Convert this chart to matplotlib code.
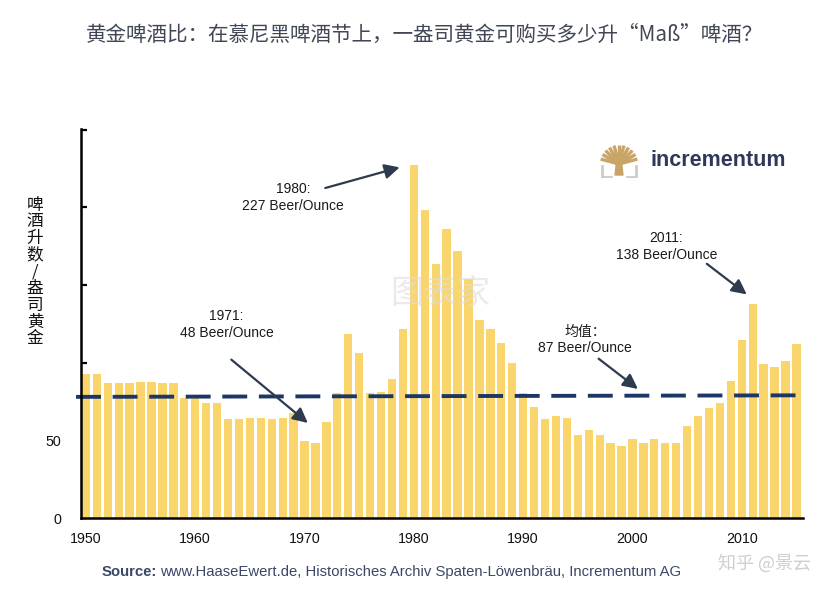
import matplotlib
matplotlib.use("Agg")
import matplotlib.pyplot as plt
from matplotlib.patches import Polygon
import numpy as np

years = list(range(1950, 2016))
beer_per_ounce = [
    92.5, 92.5, 86.7, 86.7, 86.7, 87.3, 87.3, 86.7, 86.7, 77.0,   # 1950-1959
    77.0, 74.2, 74.2, 63.5, 63.5, 64.5, 64.5, 64.0, 64.5, 67.4,   # 1960-1969
    49.5, 48.5, 61.8, 80.6, 118.8, 106.4, 80.2, 81.1, 89.7, 121.6,  # 1970-1979
    227.0, 198.6, 163.4, 185.8, 172.0, 153.6, 127.4, 121.6, 112.8, 99.5,  # 1980-1989
    80.2, 71.6, 63.7, 65.6, 64.1, 53.4, 56.6, 53.4, 48.5, 46.3,   # 1990-1999
    50.6, 48.5, 50.6, 48.5, 48.5, 59.2, 65.6, 70.8, 74.2, 88.2,   # 2000-2009
    114.5, 138.0, 99.1, 97.4, 101.0, 112.0,                       # 2010-2015
]
mean_line_x = [1949.1, 2015.6]
mean_line_y = [78.0, 79.0]

xtick_vals = [1950, 1960, 1970, 1980, 1990, 2000, 2010]
ytick_vals = [0, 50, 100, 150, 200, 250]
ytick_labels = ["0", "50", "", "", "", ""]

title = "黄金啤酒比：在慕尼黑啤酒节上，一盎司黄金可购买多少升“Maß”啤酒？"
ylabel = "啤酒升数/盎司黄金"

annotations = [
    # text, text position (x, y), arrow tail, arrow head
    ("1980:\n227 Beer/Ounce", (1968.95, 206.5), (1971.9, 212.5), (1978.7, 225.8)),
    ("1971:\n48 Beer/Ounce", (1962.85, 124.4), (1963.3, 102.0), (1970.3, 61.2)),
    ("均值：\n87 Beer/Ounce", (1995.65, 114.7), (1996.9, 102.6), (2000.5, 83.1)),
    ("2011:\n138 Beer/Ounce", (2003.1, 174.8), (2006.8, 163.7), (2010.45, 144.0)),
]

CJK = ["Noto Sans CJK SC", "DejaVu Sans"]
LAT = ["Liberation Sans", "Noto Sans CJK SC", "DejaVu Sans"]
plt.rcParams["font.family"] = LAT

fig = plt.figure(figsize=(8.36, 5.92), dpi=100)
ax = fig.add_axes([81 / 836, 1 - 518 / 592, (803 - 81) / 836, (518 - 129) / 592])

ax.bar(years, beer_per_ounce, width=0.76, color="#F9D56B", zorder=2)
ax.plot(mean_line_x, mean_line_y, color="#1C3766", lw=2.8,
        linestyle=(0, (6.4, 3.0)), zorder=3, clip_on=False, solid_capstyle="butt")

ax.set_xlim(1949.55, 2015.6)
ax.set_ylim(0, 250.5)
for s in ["top", "right"]:
    ax.spines[s].set_visible(False)
ax.spines["left"].set_linewidth(1.8)
ax.spines["bottom"].set_linewidth(1.8)
ax.spines["left"].set_zorder(4)
ax.spines["bottom"].set_zorder(4)

ax.set_xticks(xtick_vals)
ax.set_xticklabels([str(v) for v in xtick_vals], fontsize=10.3)
ax.tick_params(axis="x", length=0, pad=10, labelcolor="#111111")
ax.set_yticks(ytick_vals)
ax.set_yticklabels(ytick_labels, fontsize=10.3)
ax.tick_params(axis="y", direction="in", length=4, width=1.6, pad=14, labelcolor="#111111")

for text, tpos, tail, head in annotations:
    ax.text(tpos[0], tpos[1], text, ha="center", va="center", fontsize=10,
            color="#1a1a1a", linespacing=1.25, family=LAT, zorder=5)
    ax.annotate("", xy=head, xytext=tail,
                arrowprops=dict(arrowstyle="-|>,head_length=0.9,head_width=0.45",
                                color="#2E3A4E", lw=1.6, shrinkA=0, shrinkB=0),
                zorder=5)

# Title
fig.text(0.508, 1 - 35 / 592, title, ha="center", va="center", fontsize=14.8,
         color="#414756", family=CJK)

# Vertical y label (stacked characters)
fig.text(35 / 836, 1 - 272 / 592, "\n".join(ylabel), ha="center", va="center",
         fontsize=12, color="#111111", family=CJK, linespacing=0.98)

# Logo
fig.text(651 / 836, 1 - 160 / 592, "incrementum", ha="left", va="center",
         fontsize=15.5, fontweight="bold", color="#2E3859", family="Liberation Sans")
lax = fig.add_axes([598 / 836, 1 - 178 / 592, 42 / 836, 36 / 592])
lax.set_xlim(0, 42)
lax.set_ylim(0, 36)
lax.axis("off")
gold = "#C8A566"
lax.add_patch(Polygon([[17, 3], [25, 3], [23.5, 16], [18.5, 16]], closed=True, color=gold))
for ang in np.linspace(15, 165, 11):
    r = np.deg2rad(ang)
    lax.plot([21, 21 + 19 * np.cos(r)], [14, 14 + 19 * np.sin(r)], color=gold, lw=2.4,
             solid_capstyle="butt")
lax.plot([4, 4, 13], [12, 1, 1], color="#CCCCCC", lw=2)
lax.plot([29, 38, 38], [1, 1, 12], color="#CCCCCC", lw=2)

# Watermarks
fig.text(440 / 836, 1 - 293 / 592, "图表家", ha="center", va="center", fontsize=24,
         color="#DDDDDD", alpha=0.6, family=CJK, style="italic", zorder=10)
fig.text(765 / 836, 1 - 563 / 592, "知乎 @景云", ha="center", va="center", fontsize=13,
         color="#BBBBBB", alpha=0.7, family=CJK, zorder=10)

# Source line
renderer = fig.canvas.get_renderer()
t1 = fig.text(102 / 836, 1 - 572 / 592, "Source:", ha="left", va="center", fontsize=10.7,
              fontweight="bold", color="#3A4768", family="Liberation Sans")
bb = t1.get_window_extent(renderer=renderer)
fig.text((bb.x1 + 3) / 836, 1 - 572 / 592,
         "www.HaaseEwert.de, Historisches Archiv Spaten-Löwenbräu, Incrementum AG",
         ha="left", va="center", fontsize=10.7, color="#3A4768", family="Liberation Sans")

fig.savefig("out.png", dpi=100)
